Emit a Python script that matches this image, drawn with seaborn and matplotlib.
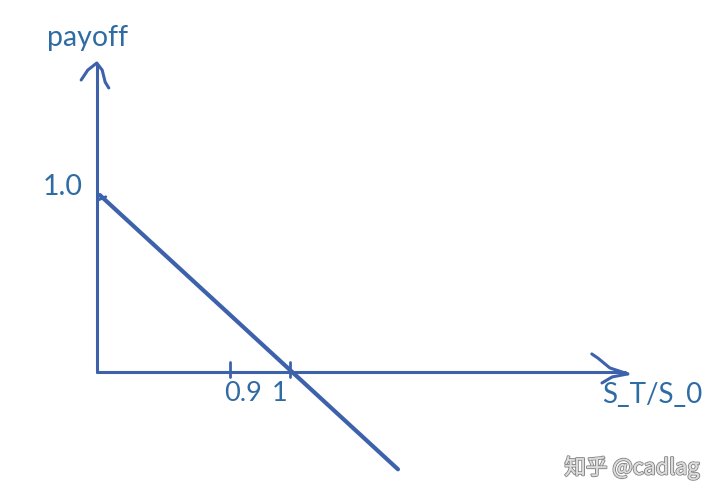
import matplotlib
matplotlib.use("Agg")
import matplotlib.patheffects as pe
import matplotlib.pyplot as plt
import pandas as pd
import seaborn as sns

# payoff line, x = S_T/S_0, y = payoff
line_x = [0.683, 1.18]
line_y = [1.0, -0.55]

# hand drawn axes and arrow heads
y_axis_x = [0.678, 0.678]
y_axis_y = [0.0, 1.734]
x_axis_x = [0.678, 1.558]
x_axis_y = [0.0, 0.0]
y_head_x = [0.652, 0.663, 0.678, 0.687, 0.692, 0.698]
y_head_y = [1.650, 1.706, 1.746, 1.706, 1.638, 1.605]
x_head_up_x = [1.503, 1.513, 1.533, 1.563]
x_head_up_y = [0.102, 0.079, 0.023, -0.011]
x_head_lo_x = [1.563, 1.537, 1.520]
x_head_lo_y = [-0.011, -0.028, -0.062]

tick_pos = [0.9, 1.0]
tick_labels = ["0.9", "1"]

sns.set_theme(style="white")
plt.rcParams["font.family"] = ["Lato", "DejaVu Sans"]

line_col = "#3d62ab"
text_col = "#2f6ca3"

fig = plt.figure(figsize=(7.2, 5.04), dpi=100)
ax = fig.add_axes([0, 0, 1, 1])

df = pd.DataFrame({"x": line_x, "y": line_y})
sns.lineplot(data=df, x="x", y="y", ax=ax, color=line_col, lw=3.0,
             solid_capstyle="round")

for xs, ys in [(y_axis_x, y_axis_y), (x_axis_x, x_axis_y),
               (y_head_x, y_head_y), (x_head_up_x, x_head_up_y),
               (x_head_lo_x, x_head_lo_y)]:
    ax.plot(xs, ys, color=line_col, lw=2.2, solid_capstyle="round")

for t in tick_pos:
    ax.plot([t, t], [0.056, -0.03], color=line_col, lw=2.0)
# little mark at 1.0 on the y axis
ax.plot([0.679, 0.693], [0.97, 0.99], color=line_col, lw=2.0)

ax.text(0.662, 1.887, "payoff", color=text_col, fontsize=20.5,
        ha="center", va="center")
ax.text(0.621, 1.045, "1.0", color=text_col, fontsize=20.5,
        ha="center", va="center")
ax.text(0.922, -0.119, tick_labels[0], color=text_col, fontsize=19.5,
        ha="center", va="center")
ax.text(0.983, -0.119, tick_labels[1], color=text_col, fontsize=19.5,
        ha="center", va="center")
ax.text(1.603, -0.13, "S_T/S_0", color=text_col, fontsize=20,
        ha="center", va="center")

wm = ax.text(1.57, -0.542, "知乎 @cadlag", color="#dcdcdc", fontsize=15.5,
             ha="center", va="center",
             family=["Noto Sans CJK SC", "DejaVu Sans"])
wm.set_path_effects([pe.withStroke(linewidth=1.5, foreground="#8a8a8a"),
                     pe.Normal()])

ax.set_xlim(0.5167, 1.7167)
ax.set_ylim(-0.746, 2.102)
ax.set_axis_off()

fig.savefig("out.png", dpi=100, facecolor="white")
